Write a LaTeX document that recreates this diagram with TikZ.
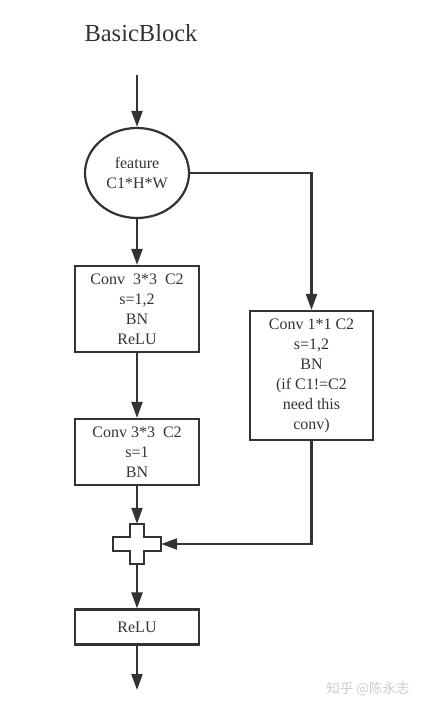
\documentclass[tikz,border=0pt]{standalone}
\usepackage{fontspec}
\setmainfont{Liberation Serif}
\newfontfamily\cjkfont{Noto Sans CJK SC}
\usetikzlibrary{arrows.meta,shapes.geometric}
\definecolor{linegray}{HTML}{333333}
\definecolor{markgray}{HTML}{CCCCCC}
\tikzset{
  block/.style={draw=linegray, line width=2.2pt, minimum width=124pt, align=center,
    inner sep=0pt, text=linegray, font=\fontsize{16}{20}\selectfont},
  flow/.style={draw=linegray, line width=2.2pt, -{Triangle[length=16pt,width=11pt]}},
}
\begin{document}
\begin{tikzpicture}[x=1pt,y=-1pt]
\useasboundingbox (0,0) rectangle (421,709);
\node[text=linegray, font=\fontsize{24.5}{28}\selectfont] (title) at (141,33) {BasicBlock};
\coordinate (in) at (137,75);
\node[block, ellipse, minimum width=104pt, minimum height=90pt] (feat) at (137,173) {feature\\C1*H*W};
\node[block, minimum height=86pt] (conva) at (137,309) {Conv~~3*3~~C2\\s=1,2\\BN\\ReLU};
\node[block, minimum height=66pt] (convb) at (137,452) {Conv 3*3~~C2\\s=1\\BN};
\node[block, minimum width=123pt, minimum height=129pt] (short) at (311.5,375.5) {Conv 1*1 C2\\s=1,2\\BN\\(if C1!=C2\\need this\\conv)};
\node[minimum width=48pt, minimum height=40pt, inner sep=0pt] (sum) at (137,544) {};
\node[block, minimum height=35pt] (relu) at (137,627) {ReLU};
\coordinate (out) at (137,690);
% plus sign
\draw[linegray, line width=2.2pt, fill=white, shift={(sum.center)}]
  (-7,-20) -- (7,-20) -- (7,-7) -- (24,-7) -- (24,7) -- (7,7) -- (7,20)
  -- (-7,20) -- (-7,7) -- (-24,7) -- (-24,-7) -- (-7,-7) -- cycle;
% main path
\draw[flow] (in) -- (feat.north);
\draw[flow] (feat.south) -- (conva.north);
\draw[flow] (conva.south) -- (convb.north);
\draw[flow] (convb.south) -- (sum.north);
\draw[flow] (sum.south) -- (relu.north);
\draw[flow] (relu.south) -- (out);
% shortcut
\draw[flow] (feat.east) -- (feat.east -| short.north) -- (short.north);
\draw[flow] (short.south) |- (sum.east);
\node[text=markgray, font=\cjkfont\fontsize{13.5}{15}\selectfont] (mark) at (368,689) {知乎 @陈永志};
\end{tikzpicture}
\end{document}
